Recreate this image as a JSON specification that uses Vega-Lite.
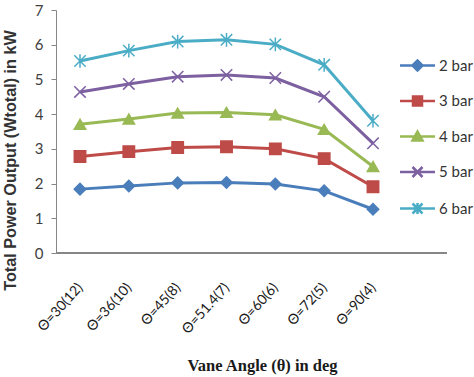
{
  "$schema": "https://vega.github.io/schema/vega-lite/v6.json",
  "width": 391,
  "height": 243,
  "autosize": "none",
  "padding": {"left": 56, "top": 10, "right": 27, "bottom": 124},
  "background": "white",
  "config": {"view": {"stroke": null}, "font": "Lato"},
  "data": {"values": [
    {"angle": "Θ=30(12)", "series": "2 bar", "power": 1.84},
    {"angle": "Θ=36(10)", "series": "2 bar", "power": 1.93},
    {"angle": "Θ=45(8)", "series": "2 bar", "power": 2.02},
    {"angle": "Θ=51.4(7)", "series": "2 bar", "power": 2.03},
    {"angle": "Θ=60(6)", "series": "2 bar", "power": 1.99},
    {"angle": "Θ=72(5)", "series": "2 bar", "power": 1.79},
    {"angle": "Θ=90(4)", "series": "2 bar", "power": 1.26},
    {"angle": "Θ=30(12)", "series": "3 bar", "power": 2.78},
    {"angle": "Θ=36(10)", "series": "3 bar", "power": 2.92},
    {"angle": "Θ=45(8)", "series": "3 bar", "power": 3.04},
    {"angle": "Θ=51.4(7)", "series": "3 bar", "power": 3.06},
    {"angle": "Θ=60(6)", "series": "3 bar", "power": 3.0},
    {"angle": "Θ=72(5)", "series": "3 bar", "power": 2.72},
    {"angle": "Θ=90(4)", "series": "3 bar", "power": 1.91},
    {"angle": "Θ=30(12)", "series": "4 bar", "power": 3.71},
    {"angle": "Θ=36(10)", "series": "4 bar", "power": 3.86},
    {"angle": "Θ=45(8)", "series": "4 bar", "power": 4.03},
    {"angle": "Θ=51.4(7)", "series": "4 bar", "power": 4.05},
    {"angle": "Θ=60(6)", "series": "4 bar", "power": 3.98},
    {"angle": "Θ=72(5)", "series": "4 bar", "power": 3.56},
    {"angle": "Θ=90(4)", "series": "4 bar", "power": 2.49},
    {"angle": "Θ=30(12)", "series": "5 bar", "power": 4.64},
    {"angle": "Θ=36(10)", "series": "5 bar", "power": 4.87},
    {"angle": "Θ=45(8)", "series": "5 bar", "power": 5.08},
    {"angle": "Θ=51.4(7)", "series": "5 bar", "power": 5.13},
    {"angle": "Θ=60(6)", "series": "5 bar", "power": 5.04},
    {"angle": "Θ=72(5)", "series": "5 bar", "power": 4.5},
    {"angle": "Θ=90(4)", "series": "5 bar", "power": 3.16},
    {"angle": "Θ=30(12)", "series": "6 bar", "power": 5.53},
    {"angle": "Θ=36(10)", "series": "6 bar", "power": 5.83},
    {"angle": "Θ=45(8)", "series": "6 bar", "power": 6.09},
    {"angle": "Θ=51.4(7)", "series": "6 bar", "power": 6.14},
    {"angle": "Θ=60(6)", "series": "6 bar", "power": 6.01},
    {"angle": "Θ=72(5)", "series": "6 bar", "power": 5.42},
    {"angle": "Θ=90(4)", "series": "6 bar", "power": 3.81}
  ]},
  "encoding": {
    "x": {
      "field": "angle", "type": "ordinal", "sort": null,
      "scale": {"type": "point", "range": [24, 317], "padding": 0},
      "axis": {
        "labelAngle": -48, "labelFontSize": 14, "labelColor": "#1a1a1a", "labelPadding": 32,
        "ticks": false, "domain": false,
        "title": "Vane Angle (θ) in deg", "titleFont": "Liberation Serif", "titleFontSize": 16.5,
        "titleFontWeight": "bold", "titleColor": "#1a1a1a",
        "titleX": 206, "titleY": 112, "titleAlign": "center", "titleBaseline": "middle", "titleAngle": 0
      }
    },
    "y": {
      "field": "power", "type": "quantitative",
      "scale": {"domain": [0, 7], "nice": false},
      "axis": {
        "values": [0, 1, 2, 3, 4, 5, 6, 7], "grid": false,
        "domainColor": "#868686", "tickColor": "#868686", "tickSize": 5,
        "labelFontSize": 15, "labelColor": "#404040", "labelPadding": 8,
        "title": "Total Power Output (Wtotal) in kW", "titleFont": "Liberation Sans", "titleFontSize": 16.2,
        "titleFontWeight": "bold", "titleColor": "#333333",
        "titleX": -46, "titleY": 150, "titleAngle": -90, "titleAlign": "center", "titleBaseline": "middle"
      }
    },
    "color": {
      "field": "series", "type": "nominal",
      "scale": {
        "domain": ["2 bar", "3 bar", "4 bar", "5 bar", "6 bar"],
        "range": ["#4a7ebb", "#be4b48", "#98b954", "#7d60a0", "#4bacc6"]
      },
      "legend": {
        "title": null, "orient": "none", "legendX": 354, "legendY": 48,
        "padding": 0, "rowPadding": 15.5, "symbolSize": 100, "labelFontSize": 15,
        "labelColor": "#333333", "labelOffset": 14, "labelFont": "Lato",
        "symbolStrokeWidth": 2.5, "symbolOpacity": 1,
        "encode": {
          "symbols": {
            "enter": {
              "shape": {"signal": "datum.value === '2 bar' ? 'M-3.5,0L3.5,0M-1,0L0,-1L1,0L0,1Z' : datum.value === '3 bar' ? 'M-3.5,0L3.5,0M-0.9,-0.9L0.9,-0.9L0.9,0.9L-0.9,0.9Z' : datum.value === '4 bar' ? 'M-3.5,0L3.5,0M-1,0.8L0,-1L1,0.8Z' : datum.value === '5 bar' ? 'M-3.5,0L3.5,0M-1,-1L1,1M-1,1L1,-1' : 'M-3.5,0L3.5,0M-1,-1L1,1M-1,1L1,-1M0,-1.1L0,1.1'"}
            },
            "update": {
              "shape": {"signal": "datum.value === '2 bar' ? 'M-3.5,0L3.5,0M-1,0L0,-1L1,0L0,1Z' : datum.value === '3 bar' ? 'M-3.5,0L3.5,0M-0.9,-0.9L0.9,-0.9L0.9,0.9L-0.9,0.9Z' : datum.value === '4 bar' ? 'M-3.5,0L3.5,0M-1,0.8L0,-1L1,0.8Z' : datum.value === '5 bar' ? 'M-3.5,0L3.5,0M-1,-1L1,1M-1,1L1,-1' : 'M-3.5,0L3.5,0M-1,-1L1,1M-1,1L1,-1M0,-1.1L0,1.1'"},
              "stroke": {"scale": "color", "field": "value"},
              "fill": {"scale": "color", "field": "value"},
              "strokeWidth": {"value": 2.5},
              "opacity": {"value": 1}
            }
          }
        }
      }
    }
  },
  "layer": [
    {"mark": {"type": "rule", "color": "#868686", "strokeWidth": 1}, "encoding": {"y": {"datum": 0}, "x": null, "color": null}},
    {"mark": {"type": "line", "strokeWidth": 3}},
    {
      "mark": {"type": "point", "filled": true, "size": 130, "strokeWidth": 1.5, "opacity": 1},
      "encoding": {
        "shape": {
          "field": "series", "type": "nominal", "legend": null,
          "scale": {
            "domain": ["2 bar", "3 bar", "4 bar", "5 bar", "6 bar", "none"],
            "range": ["diamond", "square", "triangle-up", "M-1,-1L1,1M-1,1L1,-1", "M-1,-1L1,1M-1,1L1,-1M0,-1.2L0,1.2", "circle"]
          }
        },
        "stroke": {
          "field": "series", "type": "nominal", "legend": null,
          "scale": {
            "domain": ["2 bar", "3 bar", "4 bar", "5 bar", "6 bar", "none"],
            "range": ["#4a7ebb", "#be4b48", "#98b954", "#7d60a0", "#4bacc6", "#000000"]
          }
        }
      }
    }
  ]
}
